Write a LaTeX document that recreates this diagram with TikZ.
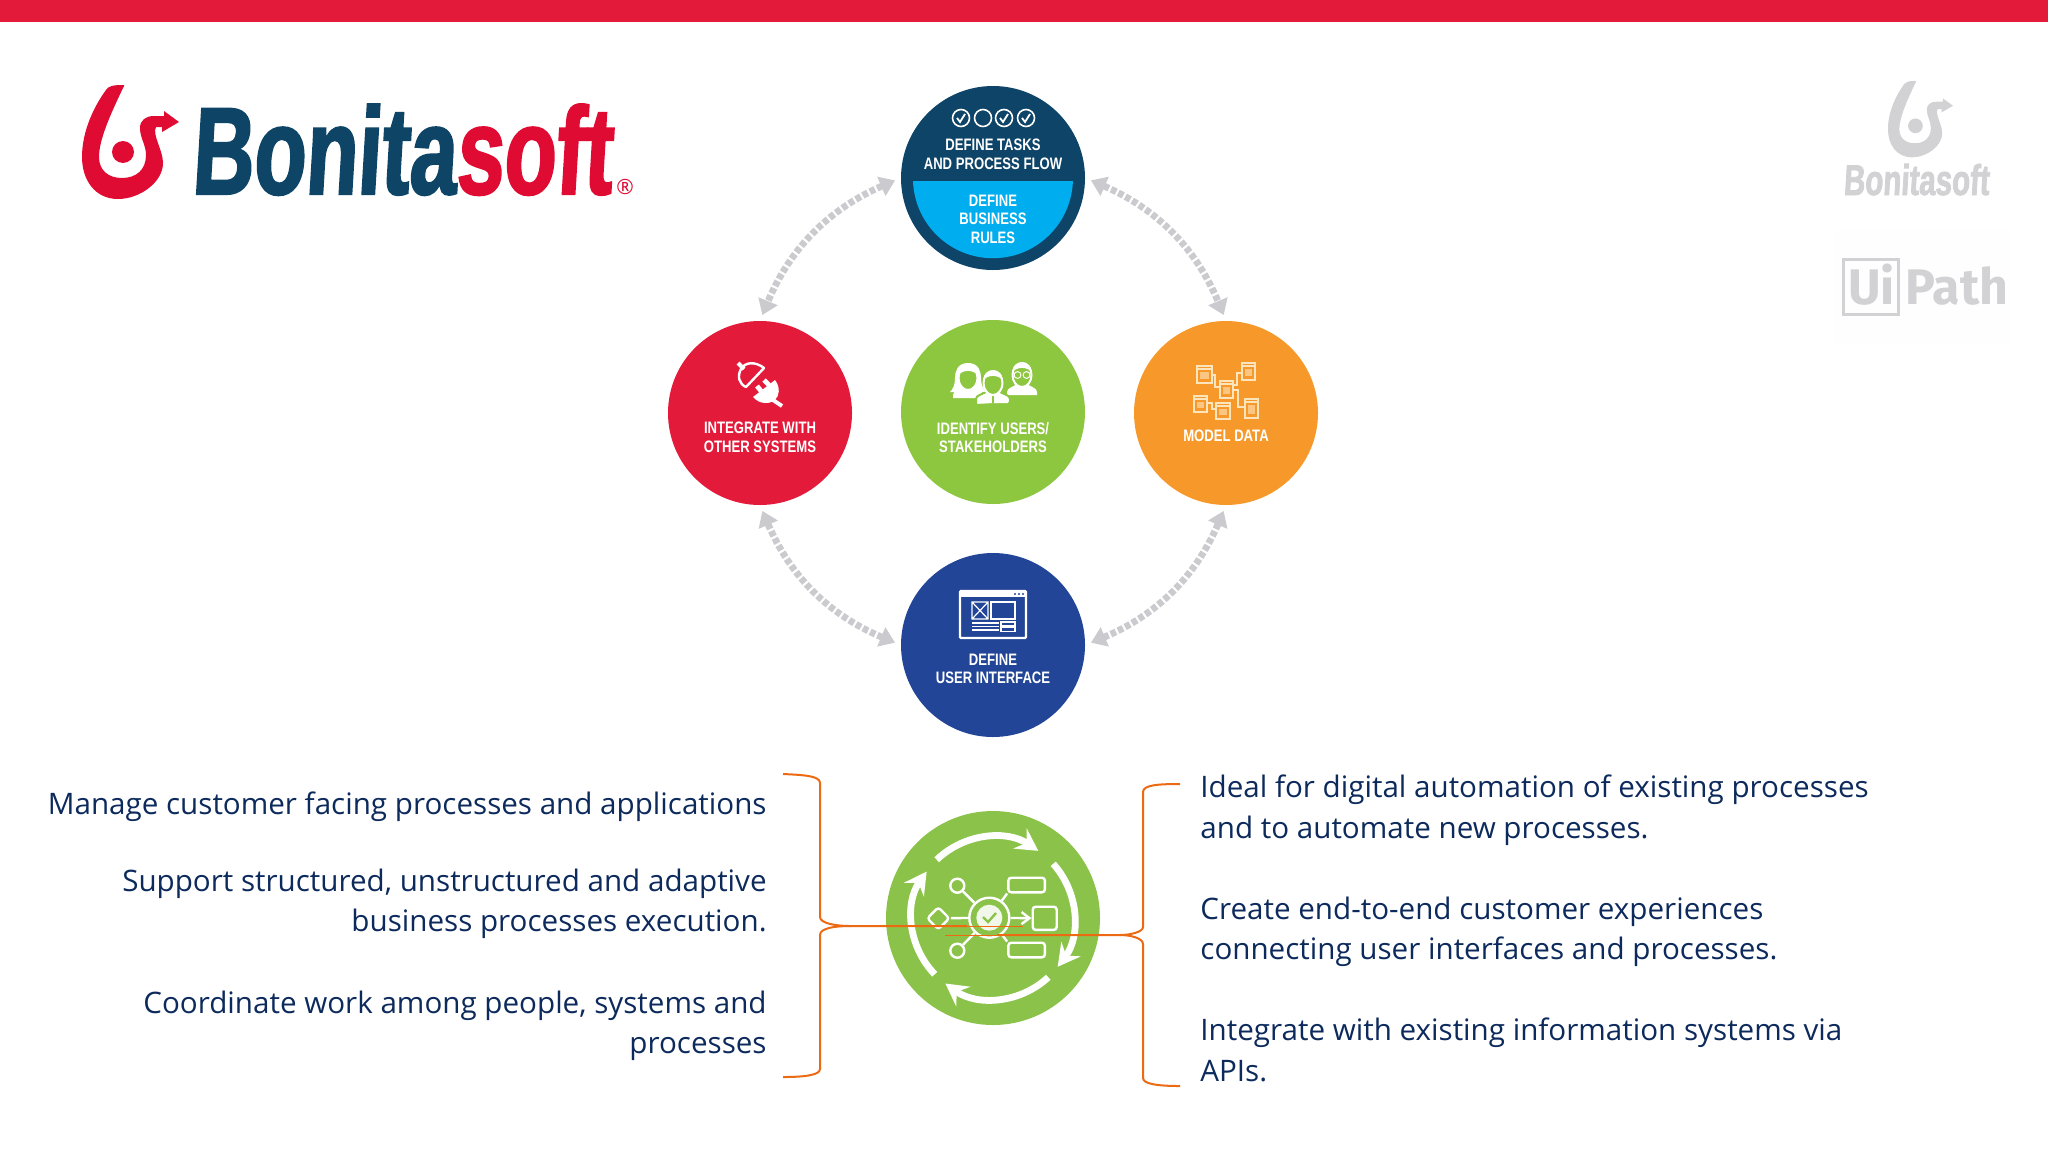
\documentclass[tikz,border=0pt]{standalone}
\usepackage{fontspec}
\setmainfont{Open Sans}
\newfontfamily\capsfont[FakeStretch=0.79]{Liberation Sans}
\newfontfamily\logofont[FakeStretch=0.685,FakeSlant=0.06,FakeBold=1.8]{Liberation Sans}
\newfontfamily\markfont{Fira Sans}
\usetikzlibrary{arrows.meta,calc,shapes.geometric}

\definecolor{barRed}{HTML}{E31A3A}
\definecolor{logoRed}{HTML}{DF0B32}
\definecolor{logoBlue}{HTML}{0E4466}
\definecolor{taskBlue}{HTML}{0E4468}
\definecolor{ruleBlue}{HTML}{00ADEE}
\definecolor{userGreen}{HTML}{8DC63F}
\definecolor{dataOrange}{HTML}{F7992A}
\definecolor{formBlue}{HTML}{224597}
\definecolor{hubGreen}{HTML}{8BC34A}
\definecolor{arrowGrey}{HTML}{CBCBCF}
\definecolor{markGrey}{HTML}{D2D2D4}
\definecolor{braceOrange}{HTML}{EB6A12}
\definecolor{bodyBlue}{HTML}{0D2A5C}
\definecolor{cardTint}{HTML}{FCE4BC}

\def\swirlpath{(124,86) .. controls (110,115) and (99,140) .. (99,157)
  .. controls (99,170) and (108,178) .. (122,178)
  .. controls (136,178) and (146,170) .. (146,155)
  .. controls (146,145) and (140,138) .. (140,128)
  .. controls (140,120) and (146,116) .. (154,116)
  -- (164,116) -- (164,111) -- (179,122) -- (162,132) -- (162,127) -- (156,127)
  .. controls (152,135) and (163,150) .. (163,163)
  .. controls (163,182) and (140,199) .. (118,199)
  .. controls (95,199) and (82,180) .. (82,157)
  .. controls (82,130) and (95,105) .. (106,90)
  .. controls (109,86) and (112,85) .. (124,85) -- cycle
  (134,152) .. controls (134,146) and (129,141) .. (123,141)
  .. controls (117,141) and (112,146) .. (112,152)
  .. controls (112,158) and (117,163) .. (123,163)
  .. controls (129,163) and (134,158) .. (134,152) -- cycle}

\tikzset{
  stepdisc/.style={circle,inner sep=0pt,minimum size=92pt},
  disclabel/.style={inner sep=0pt,white,align=center,font=\capsfont\bfseries\fontsize{8.3}{9.25}\selectfont},
  looparrow/.style={draw=arrowGrey,line width=3.4pt,dash pattern=on 2.8pt off 1.2pt,
    {Triangle[length=7.5pt,width=10pt,fill=arrowGrey]}-{Triangle[length=7.5pt,width=10pt,fill=arrowGrey]},
    shorten <=3pt,shorten >=3pt},
  bodyleft/.style={inner sep=0pt,text=bodyBlue,align=right,anchor=east,font=\fontsize{14.8}{20.25}\selectfont},
  bodyright/.style={inner sep=0pt,text=bodyBlue,align=left,anchor=west,font=\fontsize{14.8}{20.25}\selectfont},
  bracket/.style={draw=braceOrange,line width=1pt},
  hubline/.style={draw=white,line width=1.2pt},
  hubshape/.style={draw=white,line width=1.2pt,inner sep=0pt,rounded corners=1.5pt},
  hubarc/.style={draw=white,line width=3.4pt,-{Stealth[length=11pt,width=12pt,inset=4pt]}},
  person/.pic={
    \fill[white] (-15,20) -- (-15,17) .. controls (-15,13) and (-9,12) .. (-5,9) -- (5,9) .. controls (9,12) and (15,13) .. (15,17) -- (15,20) -- cycle;
    \filldraw[fill=userGreen,draw=white,line width=1pt] (0,0) ellipse (9.5 and 12);
    \fill[white] (-9.5,-3) .. controls (-10,-16) and (10,-16) .. (9.5,-3) .. controls (5,-8.5) and (-5,-8.5) .. (-9.5,-3) -- cycle;
  }
}

\begin{document}
\begin{tikzpicture}[x=0.5pt,y=-0.5pt]
  \useasboundingbox (0,0) rectangle (2048,1152);
  %%% top bar
  \fill[barRed] (0,0) rectangle (2048,22);

  %%% logo
  \fill[logoRed,even odd rule] \swirlpath;
  \node[inner sep=0pt,anchor=base west] (logotext) at (191,194) {\logofont\bfseries\fontsize{62}{62}\selectfont\textcolor{logoBlue}{Bonita}\textcolor{logoRed}{soft}};
  \node[inner sep=0pt,text=logoRed] (logoreg) at (625,187) {\fontsize{10.5}{10.5}\selectfont ®};

  %%% small marks top right
  \begin{scope}[shift={(1833,24)},scale=0.67]
    \fill[markGrey,even odd rule] \swirlpath;
  \end{scope}
  \node[inner sep=0pt,anchor=base west] (marktext) at (1843,195) {\logofont\bfseries\fontsize{21.5}{21.5}\selectfont\textcolor{markGrey}{Bonitasoft}};
  \fill[white!98!markGrey] (1834,230) rectangle (2010,345);
  \draw[markGrey,line width=1.5pt] (1843,259) rectangle (1898,314);
  \node[inner sep=0pt,anchor=base west] (markui) at (1848,304) {\markfont\bfseries\fontsize{25}{25}\selectfont\textcolor{markGrey}{Ui}};
  \node[inner sep=0pt,anchor=base west] (markpath) at (1905,304) {\markfont\bfseries\fontsize{25}{25}\selectfont\textcolor{markGrey}{Path}};

  %%% discs
  \node[stepdisc,fill=taskBlue] (tasks) at (993,178) {};
  \node[stepdisc,fill=barRed] (integrate) at (760,413) {};
  \node[stepdisc,fill=userGreen] (users) at (993,412) {};
  \node[stepdisc,fill=dataOrange] (data) at (1226,413) {};
  \node[stepdisc,fill=formBlue] (form) at (993,645) {};

  \fill[ruleBlue] (913,181) arc (178:2:80) -- cycle;

  \draw[looparrow] (tasks.west) to[bend right=22] (integrate.north);
  \draw[looparrow] (tasks.east) to[bend left=22] (data.north);
  \draw[looparrow] (integrate.south) to[bend right=22] (form.west);
  \draw[looparrow] (data.south) to[bend left=22] (form.east);

  %%% disc labels
  \node[disclabel] (taskslabel) at (993,154.5) {DEFINE TASKS\\AND PROCESS FLOW};
  \node[disclabel] (ruleslabel) at (993,219) {DEFINE\\BUSINESS\\RULES};
  \node[disclabel] (integratelabel) at (760,437.5) {INTEGRATE WITH\\OTHER SYSTEMS};
  \node[disclabel] (userslabel) at (993,437.5) {IDENTIFY USERS/\\STAKEHOLDERS};
  \node[disclabel] (datalabel) at (1226,436) {MODEL DATA};
  \node[disclabel] (formlabel) at (993,669) {DEFINE\\USER INTERFACE};

  %%% check marks
  \foreach \cx/\tick in {961/1,983/0,1004/1,1026/1}{
    \draw[white,line width=0.8pt] (\cx,118) circle (8.5);
    \ifnum\tick=1
      \draw[white,line width=0.9pt] (\cx-4,118) -- (\cx-1,122) -- (\cx+4,114);
    \fi
  }

  %%% plug
  \draw[white,line width=1.2pt,line join=round] (764,368) .. controls (755,361) and (745,362) .. (741,369) .. controls (737,376) and (739,384) .. (746,387) -- cycle;
  \draw[white,line width=2pt] (738,363) -- (744,369);
  \fill[white] (753,397) -- (775,380) .. controls (781,388) and (779,396) .. (775,400) .. controls (770,404) and (760,405) .. (753,397) -- cycle;
  \draw[white,line width=2.4pt] (761,391) -- (757,386);
  \draw[white,line width=2.4pt] (769,385) -- (764,380);
  \draw[white,line width=2pt] (773,400) -- (782,406);

  %%% people
  \fill[white] (968,363) .. controls (957,363) and (955,372) .. (955,378) .. controls (955,385) and (953,389) .. (950,392) -- (986,392) .. controls (983,389) and (981,385) .. (981,378) .. controls (981,372) and (979,363) .. (968,363) -- cycle;
  \pic at (968,378) {person};
  \pic at (1022,375) {person};
  \draw[white,line width=0.5pt] (1017.5,375) circle (3.4) (1026.5,375) circle (3.4);
  \draw[userGreen,line width=1pt,fill=white] (976,405) -- (976,399) .. controls (976,395) and (983,394) .. (987,392) -- (999,392) .. controls (1003,394) and (1010,395) .. (1010,399) -- (1010,403) -- cycle;
  \pic at (993,383) {person};
  \draw[userGreen,line width=0.8pt] (993,396) -- (993,403);

  %%% data model
  \begin{scope}[cardTint,line width=0.7pt]
    \draw (1212,375) -| (1215,387) -- (1220,387);
    \draw (1233,385) -| (1237,373) -- (1242,373);
    \draw (1233,390) -| (1238,407) -- (1245,407);
    \draw (1207,403) -| (1212,409) -- (1216,409);
    \foreach \cardx/\cardy/\cardw/\cardh in {1197/366/15/17,1242/363/13/17,1220/381/13/17,1194/396/13/16,1216/403/14/16,1245/399/13/19}{
      \draw (\cardx,\cardy) rectangle ++(\cardw,\cardh);
      \draw (\cardx,\cardy+3) -- ++(\cardw,0);
      \fill[opacity=0.6] (\cardx+3,\cardy+6) rectangle ++(\cardw-6,\cardh-10);
    }
  \end{scope}

  %%% window
  \draw[white,line width=1.2pt,rounded corners=0.5pt] (960,591) rectangle (1026,638);
  \fill[white] (960,591) rectangle (1026,597);
  \foreach \dotx in {1015,1019,1023}{
    \fill[formBlue] (\dotx,594) circle (1.2);
  }
  \begin{scope}[white,line width=0.6pt]
    \draw (972,602) rectangle (988,619) (972,602) -- (988,619) (972,619) -- (988,602);
    \draw (991,602) rectangle (1015,619);
    \draw (972,623) -- (999,623) (972,626.5) -- (999,626.5) (972,630) -- (999,630);
    \draw (1001,622) rectangle (1015,626) (1001,627.5) rectangle (1015,631.5);
  \end{scope}

  %%% hub icon
  \node[circle,inner sep=0pt,minimum size=107pt,fill=hubGreen] (hubdisc) at (993,918) {};
  \draw[hubarc] ($(hubdisc)+(-134:81)$) arc (-134:-56:81);
  \draw[hubarc] ($(hubdisc)+(-42:81)$) arc (-42:37:81);
  \draw[hubarc] ($(hubdisc)+(47:81)$) arc (47:126:81);
  \draw[hubarc] ($(hubdisc)+(136:81)$) arc (136:215:81);

  \node[circle,hubshape,minimum size=20pt] (hub) at (989.3,917.7) {};
  \fill[white!88!hubGreen] (hub) circle (13);
  \draw[hubGreen,line width=1.2pt] (983,917) -- (988,922) -- (996,913);
  \node[circle,hubshape,minimum size=7pt] (nodeup) at (957.3,885.7) {};
  \node[circle,hubshape,minimum size=7pt] (nodedown) at (957.3,950.7) {};
  \node[diamond,hubshape,minimum size=11.5pt] (gate) at (938.3,918.3) {};
  \node[hubshape,minimum width=18.3pt,minimum height=7.3pt] (taskup) at (1026.6,885) {};
  \node[hubshape,minimum width=12pt,minimum height=11.6pt] (taskmid) at (1044.7,918.3) {};
  \node[hubshape,minimum width=18.3pt,minimum height=7.3pt] (taskdown) at (1026.6,950) {};
  \draw[hubline] (hub) -- (nodeup);
  \draw[hubline] (hub) -- (nodedown);
  \draw[hubline] (hub) -- (gate);
  \draw[hubline] (hub) -- (taskup.south west);
  \draw[hubline] (hub) -- (taskdown.north west);
  \draw[hubline,-{Straight Barb[length=4pt,width=6pt]}] (hub) -- (taskmid);

  %%% brackets
  \draw[bracket] (783,774) .. controls (805,775) and (820,776) .. (820,783) -- (820,917)
    .. controls (820,923) and (835,926) .. (850,926) -- (967,926);
  \draw[bracket] (850,926) .. controls (835,926) and (820,928) .. (820,935) -- (820,1069)
    .. controls (820,1075) and (805,1077) .. (783,1077);
  \draw[braceOrange,line width=0.35pt] (967,926) -- (1023,926);
  \draw[bracket] (1180,784) .. controls (1158,784) and (1143,785) .. (1143,792) -- (1143,927)
    .. controls (1143,932) and (1130,935) .. (1120,935) -- (997,935);
  \draw[bracket] (1120,935) .. controls (1130,935) and (1143,938) .. (1143,944) -- (1143,1078)
    .. controls (1143,1084) and (1158,1086) .. (1180,1086);
  \draw[braceOrange,line width=0.35pt] (997,935) -- (945,935);

  %%% texts
  \node[bodyleft] (leftone) at (767,807) {Manage customer facing processes and applications};
  \node[bodyleft] (lefttwo) at (767,904) {Support structured, unstructured and adaptive\\business processes execution.};
  \node[bodyleft] (leftthree) at (767,1026) {Coordinate work among people, systems and\\processes};
  \node[bodyright] (rightone) at (1200,810) {Ideal for digital automation of existing processes\\and to automate new processes.};
  \node[bodyright] (righttwo) at (1200,932) {Create end-to-end customer experiences\\connecting user interfaces and processes.};
  \node[bodyright] (rightthree) at (1200,1050) {Integrate with existing information systems via\\APIs.};
\end{tikzpicture}
\end{document}
